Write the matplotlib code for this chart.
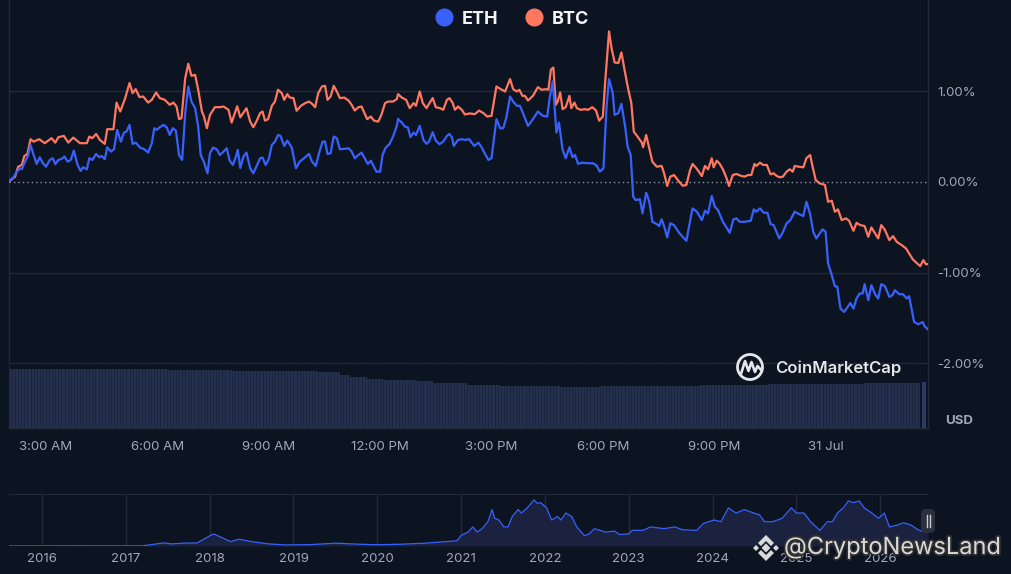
import matplotlib
matplotlib.use('Agg')
import matplotlib.pyplot as plt
import matplotlib.patheffects as pe
from matplotlib.lines import Line2D
from matplotlib.patches import Circle, FancyBboxPatch, Polygon
import numpy as np

plt.rcParams['font.family'] = ['Inter', 'DejaVu Sans']

# ---- data (minutes after 00:00, 30 Jul ; % change) ----
btc_t = [120, 130, 135, 141, 145, 150, 155, 160, 169, 178,
         189, 195, 200, 209, 216, 224, 235, 246, 250, 255,
         261, 267, 275, 279, 289, 294, 300, 308, 315, 320,
         325, 331, 337, 345, 351, 358, 364, 372, 380, 386,
         391, 395, 399, 405, 410, 415, 421, 426, 432, 435,
         440, 445, 453, 461, 467, 475, 480, 489, 494, 504,
         510, 515, 520, 526, 530, 534, 539, 545, 550, 555,
         561, 565, 570, 574, 580, 585, 592, 599, 605, 610,
         615, 620, 626, 631, 635, 640, 645, 650, 655, 662,
         669, 674, 679, 685, 690, 696, 699, 705, 710, 717,
         722, 728, 733, 741, 747, 749, 755, 762, 768, 774,
         778, 784, 789, 795, 799, 805, 810, 817, 822, 828,
         832, 837, 841, 846, 852, 857, 865, 873, 880, 887,
         893, 900, 908, 915, 922, 930, 935, 941, 945, 950,
         954, 959, 967, 975, 981, 988, 992, 996, 1000, 1004,
         1007, 1011, 1015, 1020, 1026, 1029, 1034, 1038, 1044, 1051,
         1056, 1063, 1069, 1074, 1080, 1084, 1090, 1094, 1099, 1105,
         1110, 1116, 1121, 1126, 1130, 1136, 1143, 1145, 1150, 1155,
         1160, 1167, 1175, 1179, 1184, 1189, 1195, 1202, 1209, 1215,
         1221, 1225, 1232, 1240, 1245, 1250, 1256, 1259, 1264, 1269,
         1274, 1280, 1284, 1290, 1296, 1304, 1309, 1315, 1320, 1325,
         1328, 1334, 1339, 1345, 1351, 1356, 1361, 1366, 1371, 1377,
         1382, 1387, 1390, 1396, 1404, 1409, 1415, 1419, 1424, 1430,
         1439, 1444, 1450, 1455, 1460, 1466, 1473, 1478, 1485, 1490,
         1496, 1503, 1509, 1514, 1520, 1525, 1530, 1536, 1543, 1549,
         1555, 1563, 1570, 1575, 1581, 1587, 1593, 1598, 1602, 1607]
btc_v = [0.003, 0.059, 0.169, 0.188, 0.287, 0.309, 0.472, 0.445, 0.472, 0.428,
         0.483, 0.434, 0.494, 0.508, 0.434, 0.490, 0.428, 0.428, 0.501, 0.483,
         0.530, 0.464, 0.420, 0.582, 0.582, 0.876, 0.777, 0.925, 1.091, 0.980,
         1.024, 0.936, 0.943, 0.876, 0.906, 0.987, 0.925, 0.906, 0.851, 0.876,
         0.832, 0.693, 0.704, 1.146, 1.304, 1.171, 1.182, 1.017, 0.777, 0.729,
         0.593, 0.740, 0.825, 0.825, 0.832, 0.796, 0.655, 0.835, 0.713, 0.814,
         0.666, 0.604, 0.666, 0.759, 0.777, 0.677, 0.693, 0.840, 0.887, 1.017,
         0.980, 0.906, 0.969, 0.931, 0.925, 0.785, 0.840, 0.870, 0.887, 0.862,
         0.825, 0.980, 1.053, 1.061, 0.906, 0.943, 1.061, 0.998, 0.925, 0.931,
         0.898, 0.851, 0.788, 0.825, 0.832, 0.740, 0.693, 0.722, 0.677, 0.666,
         0.740, 0.870, 0.887, 0.887, 0.914, 0.969, 0.931, 0.906, 0.814, 0.870,
         0.840, 0.998, 0.870, 0.814, 0.862, 0.925, 0.825, 0.814, 0.796, 0.906,
         0.925, 0.876, 0.796, 0.832, 0.796, 0.745, 0.756, 0.748, 0.788, 0.759,
         0.722, 0.729, 1.053, 1.024, 0.998, 1.135, 1.024, 0.998, 1.017, 0.950,
         0.950, 0.898, 0.950, 1.046, 1.017, 1.024, 1.017, 1.238, 1.263, 0.851,
         0.887, 0.987, 0.803, 0.825, 0.950, 0.814, 0.876, 0.814, 0.796, 0.803,
         0.796, 0.825, 0.788, 0.677, 0.722, 1.127, 1.661, 1.477, 1.318, 1.312,
         1.429, 1.201, 1.024, 0.870, 0.556, 0.501, 0.434, 0.383, 0.519, 0.372,
         0.224, 0.169, 0.177, 0.096, -0.044, 0.059, 0.077, 0.014, -0.041, -0.033,
         0.133, 0.199, 0.144, 0.066, 0.177, 0.140, 0.262, 0.162, 0.235, 0.199,
         0.140, 0.041, -0.044, 0.077, 0.088, 0.066, 0.059, 0.077, 0.077, 0.199,
         0.177, 0.213, 0.188, 0.188, 0.085, 0.096, 0.066, 0.052, 0.059, 0.114,
         0.140, 0.114, 0.177, 0.169, 0.162, 0.262, 0.298, 0.169, 0.022, -0.014,
         -0.033, -0.218, -0.207, -0.328, -0.302, -0.420, -0.401, -0.428, -0.538, -0.450,
         -0.475, -0.486, -0.604, -0.501, -0.567, -0.622, -0.475, -0.530, -0.641, -0.597,
         -0.660, -0.696, -0.733, -0.788, -0.854, -0.892, -0.928, -0.862, -0.906, -0.906]

eth_t = [120, 127, 133, 138, 141, 146, 151, 155, 160, 165,
         170, 175, 180, 186, 191, 195, 200, 205, 210, 215,
         220, 225, 231, 236, 240, 246, 250, 255, 261, 266,
         270, 275, 279, 285, 290, 295, 301, 306, 310, 315,
         320, 325, 332, 338, 345, 351, 355, 359, 364, 370,
         375, 380, 385, 390, 395, 400, 405, 410, 415, 421,
         426, 430, 435, 441, 445, 450, 456, 461, 467, 472,
         477, 482, 487, 490, 494, 499, 504, 510, 515, 520,
         526, 530, 535, 540, 545, 550, 555, 559, 565, 570,
         577, 584, 590, 597, 605, 610, 616, 622, 627, 631,
         635, 640, 645, 650, 655, 662, 669, 674, 679, 685,
         690, 696, 700, 705, 710, 714, 720, 724, 729, 735,
         741, 747, 749, 755, 760, 765, 769, 774, 778, 784,
         790, 795, 799, 805, 810, 816, 822, 828, 832, 836,
         839, 846, 852, 857, 864, 872, 879, 884, 889, 895,
         900, 908, 914, 919, 924, 930, 935, 941, 946, 952,
         959, 967, 975, 983, 990, 994, 999, 1005, 1009, 1015,
         1020, 1026, 1031, 1035, 1040, 1046, 1054, 1064, 1070, 1075,
         1081, 1086, 1090, 1096, 1099, 1105, 1110, 1116, 1120, 1125,
         1129, 1133, 1140, 1144, 1150, 1155, 1160, 1167, 1171, 1175,
         1179, 1184, 1189, 1195, 1204, 1215, 1221, 1225, 1232, 1240,
         1245, 1250, 1256, 1261, 1266, 1274, 1285, 1291, 1296, 1301,
         1309, 1319, 1324, 1328, 1334, 1340, 1346, 1351, 1356, 1365,
         1370, 1377, 1383, 1390, 1397, 1404, 1409, 1415, 1420, 1425,
         1435, 1440, 1444, 1450, 1455, 1459, 1464, 1470, 1475, 1480,
         1485, 1490, 1495, 1500, 1503, 1509, 1514, 1520, 1525, 1530,
         1536, 1543, 1548, 1552, 1559, 1565, 1571, 1575, 1583, 1590,
         1597, 1600, 1606]
eth_v = [0.011, 0.048, 0.114, 0.151, 0.140, 0.224, 0.287, 0.409, 0.298, 0.199,
         0.273, 0.207, 0.169, 0.243, 0.262, 0.196, 0.243, 0.254, 0.280, 0.224,
         0.243, 0.346, 0.188, 0.122, 0.162, 0.140, 0.262, 0.243, 0.309, 0.273,
         0.287, 0.251, 0.383, 0.335, 0.361, 0.575, 0.445, 0.545, 0.556, 0.630,
         0.420, 0.434, 0.379, 0.365, 0.324, 0.428, 0.593, 0.575, 0.604, 0.630,
         0.604, 0.519, 0.593, 0.564, 0.298, 0.243, 0.759, 1.053, 0.887, 0.814,
         0.611, 0.298, 0.224, 0.096, 0.317, 0.379, 0.361, 0.298, 0.335, 0.372,
         0.234, 0.188, 0.280, 0.354, 0.155, 0.280, 0.324, 0.151, 0.096, 0.169,
         0.262, 0.269, 0.188, 0.251, 0.409, 0.445, 0.519, 0.508, 0.398, 0.456,
         0.383, 0.151, 0.224, 0.262, 0.309, 0.224, 0.177, 0.335, 0.445, 0.445,
         0.309, 0.317, 0.501, 0.483, 0.361, 0.365, 0.372, 0.335, 0.262, 0.298,
         0.324, 0.251, 0.199, 0.235, 0.169, 0.114, 0.114, 0.298, 0.379, 0.417,
         0.501, 0.619, 0.696, 0.655, 0.611, 0.600, 0.494, 0.545, 0.519, 0.619,
         0.464, 0.420, 0.445, 0.549, 0.456, 0.417, 0.445, 0.508, 0.530, 0.494,
         0.398, 0.464, 0.472, 0.464, 0.472, 0.398, 0.434, 0.383, 0.317, 0.243,
         0.262, 0.693, 0.593, 0.593, 0.710, 0.943, 0.887, 0.840, 0.840, 0.740,
         0.619, 0.693, 0.777, 0.729, 0.722, 0.925, 1.108, 0.545, 0.655, 0.354,
         0.262, 0.383, 0.273, 0.298, 0.199, 0.213, 0.207, 0.207, 0.180, 0.114,
         0.151, 0.832, 1.135, 0.980, 0.740, 0.759, 0.862, 0.611, 0.390, 0.298,
         -0.162, -0.199, -0.191, -0.346, -0.118, -0.218, -0.439, -0.464, -0.486, -0.412,
         -0.486, -0.611, -0.456, -0.475, -0.567, -0.649, -0.429, -0.291, -0.328, -0.420,
         -0.317, -0.346, -0.155, -0.273, -0.309, -0.439, -0.560, -0.412, -0.401, -0.439,
         -0.439, -0.428, -0.302, -0.328, -0.291, -0.339, -0.339, -0.464, -0.475, -0.622,
         -0.567, -0.456, -0.420, -0.328, -0.354, -0.376, -0.218, -0.354, -0.549, -0.622,
         -0.523, -0.549, -0.898, -1.028, -1.149, -1.157, -1.396, -1.433, -1.385, -1.334,
         -1.396, -1.285, -1.230, -1.230, -1.127, -1.304, -1.138, -1.238, -1.285, -1.127,
         -1.149, -1.267, -1.249, -1.193, -1.238, -1.238, -1.285, -1.260, -1.544, -1.569,
         -1.544, -1.591, -1.628]

# volume (bn USD), step levels between edges (minutes)
vol_edges = [120, 300, 375, 482, 618, 655, 671, 699, 725, 780, 805,
             860, 914, 1011, 1075, 1237, 1345, 1452, 1500, 1592]
vol_level = [29.5, 29.3, 28.8, 28.4, 27.8, 26.5, 25.5, 24.5, 24.0, 23.3,
             22.5, 21.5, 20.8, 20.5, 21.0, 21.5, 21.8, 22.0, 22.5]
vol_last_t, vol_last = 1599.5, 22.8

time_ticks = [180, 360, 540, 720, 900, 1080, 1260, 1440]
time_labels = ['3:00 AM', '6:00 AM', '9:00 AM', '12:00 PM',
               '3:00 PM', '6:00 PM', '9:00 PM', '31 Jul']
pct_ticks = [1.0, 0.0, -1.0, -2.0]

# navigator: ETH price history (USD)
nav_year = [2015.61, 2016.0, 2016.2, 2016.45, 2016.6, 2017.0, 2017.2, 2017.45, 2017.55, 2017.7,
            2017.85, 2018.0, 2018.05, 2018.15, 2018.25, 2018.35, 2018.5, 2018.7, 2018.9, 2019.2,
            2019.5, 2019.8, 2020.0, 2020.27, 2020.57, 2020.95, 2021.0, 2021.08, 2021.14, 2021.19,
            2021.25, 2021.32, 2021.37, 2021.40, 2021.45, 2021.51, 2021.56, 2021.61, 2021.68, 2021.72,
            2021.79, 2021.87, 2021.91, 2021.95, 2022.02, 2022.08, 2022.15, 2022.19, 2022.25, 2022.32,
            2022.38, 2022.47, 2022.53, 2022.59, 2022.66, 2022.72, 2022.83, 2022.89, 2023.0, 2023.04,
            2023.17, 2023.26, 2023.42, 2023.55, 2023.64, 2023.81, 2023.89, 2024.02, 2024.10, 2024.19,
            2024.28, 2024.38, 2024.49, 2024.56, 2024.62, 2024.72, 2024.83, 2024.94, 2025.0, 2025.09,
            2025.17, 2025.28, 2025.37, 2025.43, 2025.49, 2025.56, 2025.62, 2025.68, 2025.75, 2025.81,
            2025.90, 2025.98, 2026.05, 2026.11, 2026.20, 2026.28, 2026.37, 2026.45, 2026.49, 2026.57]
nav_price = [1, 1, 10, 14, 11, 9, 15, 320, 220, 300,
             310, 1050, 1250, 850, 450, 700, 450, 220, 110, 140,
             290, 180, 130, 180, 290, 540, 1080, 1440, 1980, 1440,
             1800, 2520, 3780, 2880, 2700, 1980, 1980, 3060, 3780, 3420,
             3960, 4790, 4430, 4500, 3960, 2700, 3060, 2700, 3420, 3060,
             1980, 1080, 1260, 1800, 1620, 1440, 1550, 1190, 1260, 1620,
             1620, 1980, 1800, 1980, 1690, 1620, 2340, 2700, 2520, 3960,
             3420, 3780, 3420, 3240, 2520, 2520, 2880, 3960, 3420, 3420,
             2520, 1620, 2520, 2520, 3420, 3960, 4680, 4500, 4680, 3960,
             3420, 2880, 3420, 1980, 2160, 2410, 2160, 1690, 1550, 1510]
nav_years = list(range(2016, 2027))

# ---- style ----
BG = '#0d1421'
GRID = '#222a38'
TXT = '#a1a7bb'
ETH_C = '#3861fb'
BTC_C = '#ff775f'
VOL_C = '#25304f'

W, H = 1011, 574
fig = plt.figure(figsize=(W / 100, H / 100), dpi=100, facecolor=BG)


def px_axes(x0, y0, x1, y1):
    return fig.add_axes([x0 / W, 1 - y1 / H, (x1 - x0) / W, (y1 - y0) / H])


# main price axes
ax = px_axes(9, 0, 928, 428)
ax.set_facecolor(BG)
for v in pct_ticks:
    if v == 0:
        ax.axhline(v, color='#8d94a3', lw=1.0, ls=(0, (1, 2.2)), zorder=1)
    else:
        ax.axhline(v, color=GRID, lw=1.0, zorder=1)
ax.plot(btc_t, btc_v, color=BTC_C, lw=1.6, solid_joinstyle='round', zorder=4)
ax.plot(eth_t, eth_v, color=ETH_C, lw=1.6, solid_joinstyle='round', zorder=5)
ax.set_xlim(120.2, 1605.5)
ax.set_ylim(-2.713, 2.007)
ax.yaxis.tick_right()
ax.set_yticks(pct_ticks)
ax.set_yticklabels([f'{v:.2f}%' for v in pct_ticks])
ax.set_xticks(time_ticks)
ax.set_xticklabels(time_labels)
ax.tick_params(axis='y', length=0, pad=6.5, labelsize=9.5, labelcolor=TXT)
ax.tick_params(axis='x', length=0, pad=9, labelsize=9.5, labelcolor=TXT)
for s in ['left', 'right', 'bottom']:
    ax.spines[s].set_color(GRID)
    ax.spines[s].set_linewidth(1.0)
ax.spines['top'].set_visible(False)

# volume
vax = px_axes(9, 363, 928, 428)
vax.patch.set_alpha(0)
vax.stairs(vol_level, vol_edges, fill=True, color=VOL_C, zorder=1)
vax.vlines(np.arange(vol_edges[0], vol_edges[-1], 5), 0, 40, color=BG, lw=0.5, alpha=0.55, zorder=2)
vax.bar([vol_last_t], [vol_last], width=7, color='#2c3a66', zorder=2)
vax.set_xlim(120.2, 1605.5)
vax.set_ylim(0, 32.5)
vax.axis('off')

# legend
handles = [Line2D([], [], marker='o', ls='', ms=12, color=ETH_C, label='ETH'),
           Line2D([], [], marker='o', ls='', ms=12, color=BTC_C, label='BTC')]
leg = fig.legend(handles=handles, loc='center', bbox_to_anchor=(512 / W, 1 - 19 / H), ncol=2,
                 frameon=False, handlelength=1, handletextpad=0.45, columnspacing=1.5,
                 prop={'size': 13, 'weight': 'bold'})
for t in leg.get_texts():
    t.set_color('#f4f5f7')

fig.text(945 / W, 1 - 421 / H, 'USD', color=TXT, fontsize=9.5, fontweight='bold', va='center', ha='left')

# navigator
nax = px_axes(9, 494, 928, 546)
nax.set_facecolor(BG)
nax.fill_between(nav_year, nav_price, 0, color='#1a2240', lw=0, zorder=1)
nax.plot(nav_year, nav_price, color=ETH_C, lw=0.9, zorder=3)
for y in nav_years:
    nax.axvline(y, color=GRID, lw=1.0, zorder=0)
nax.set_xlim(2015.606, 2026.57)
nax.set_ylim(0, 5400)
nax.set_xticks(nav_years)
nax.set_xticklabels([str(y) for y in nav_years])
nax.set_yticks([])
nax.tick_params(axis='x', length=0, pad=5, labelsize=9.5, labelcolor=TXT)
for s in ['left', 'right', 'bottom']:
    nax.spines[s].set_visible(False)
nax.spines['top'].set_color(GRID)

# overlay for logos / handle
oax = fig.add_axes([0, 0, 1, 1], zorder=10)
oax.set_xlim(0, W)
oax.set_ylim(H, 0)
oax.axis('off')
oax.patch.set_alpha(0)

# CoinMarketCap mark
oax.add_patch(Circle((750, 367), 12.5, fill=False, ec='#e4e6ea', lw=2.0))
oax.plot([741, 745, 748.5, 751.5, 755, 757.5, 762], [374, 361, 371, 362, 372, 366, 371],
         color='#e4e6ea', lw=1.9, solid_joinstyle='round', solid_capstyle='round')
oax.text(775, 368, 'CoinMarketCap', color='#e4e6ea', fontsize=12, fontweight='semibold',
         ha='left', va='center')

# navigator handle
oax.add_patch(FancyBboxPatch((921, 509), 14, 24, boxstyle='round,pad=0,rounding_size=5',
                             fc='#2a303c', ec='none'))
oax.plot([926.5, 926.5], [515, 527], color='#c9ccd3', lw=1.0)
oax.plot([929.5, 929.5], [515, 527], color='#c9ccd3', lw=1.0)

# watermark
wm_c = '#d9d9d9'
shadow = [pe.withStroke(linewidth=2.5, foreground='#303030')]
for cx, cy, r in [(766, 548, 4.5), (756, 548, 3), (776, 548, 3)]:
    oax.add_patch(Polygon([(cx - r, cy), (cx, cy - r), (cx + r, cy), (cx, cy + r)],
                          closed=True, fc=wm_c, ec='none'))
oax.add_patch(Polygon([(758, 543), (766, 535), (774, 543), (771, 546), (766, 541), (761, 546)],
                      closed=True, fc=wm_c, ec='none'))
oax.add_patch(Polygon([(758, 553), (766, 561), (774, 553), (771, 550), (766, 555), (761, 550)],
                      closed=True, fc=wm_c, ec='none'))
oax.text(784, 548, '@CryptoNewsLand', color=wm_c, fontsize=17, ha='left', va='center',
         path_effects=shadow)

fig.savefig('out.png', dpi=100, facecolor=BG)
